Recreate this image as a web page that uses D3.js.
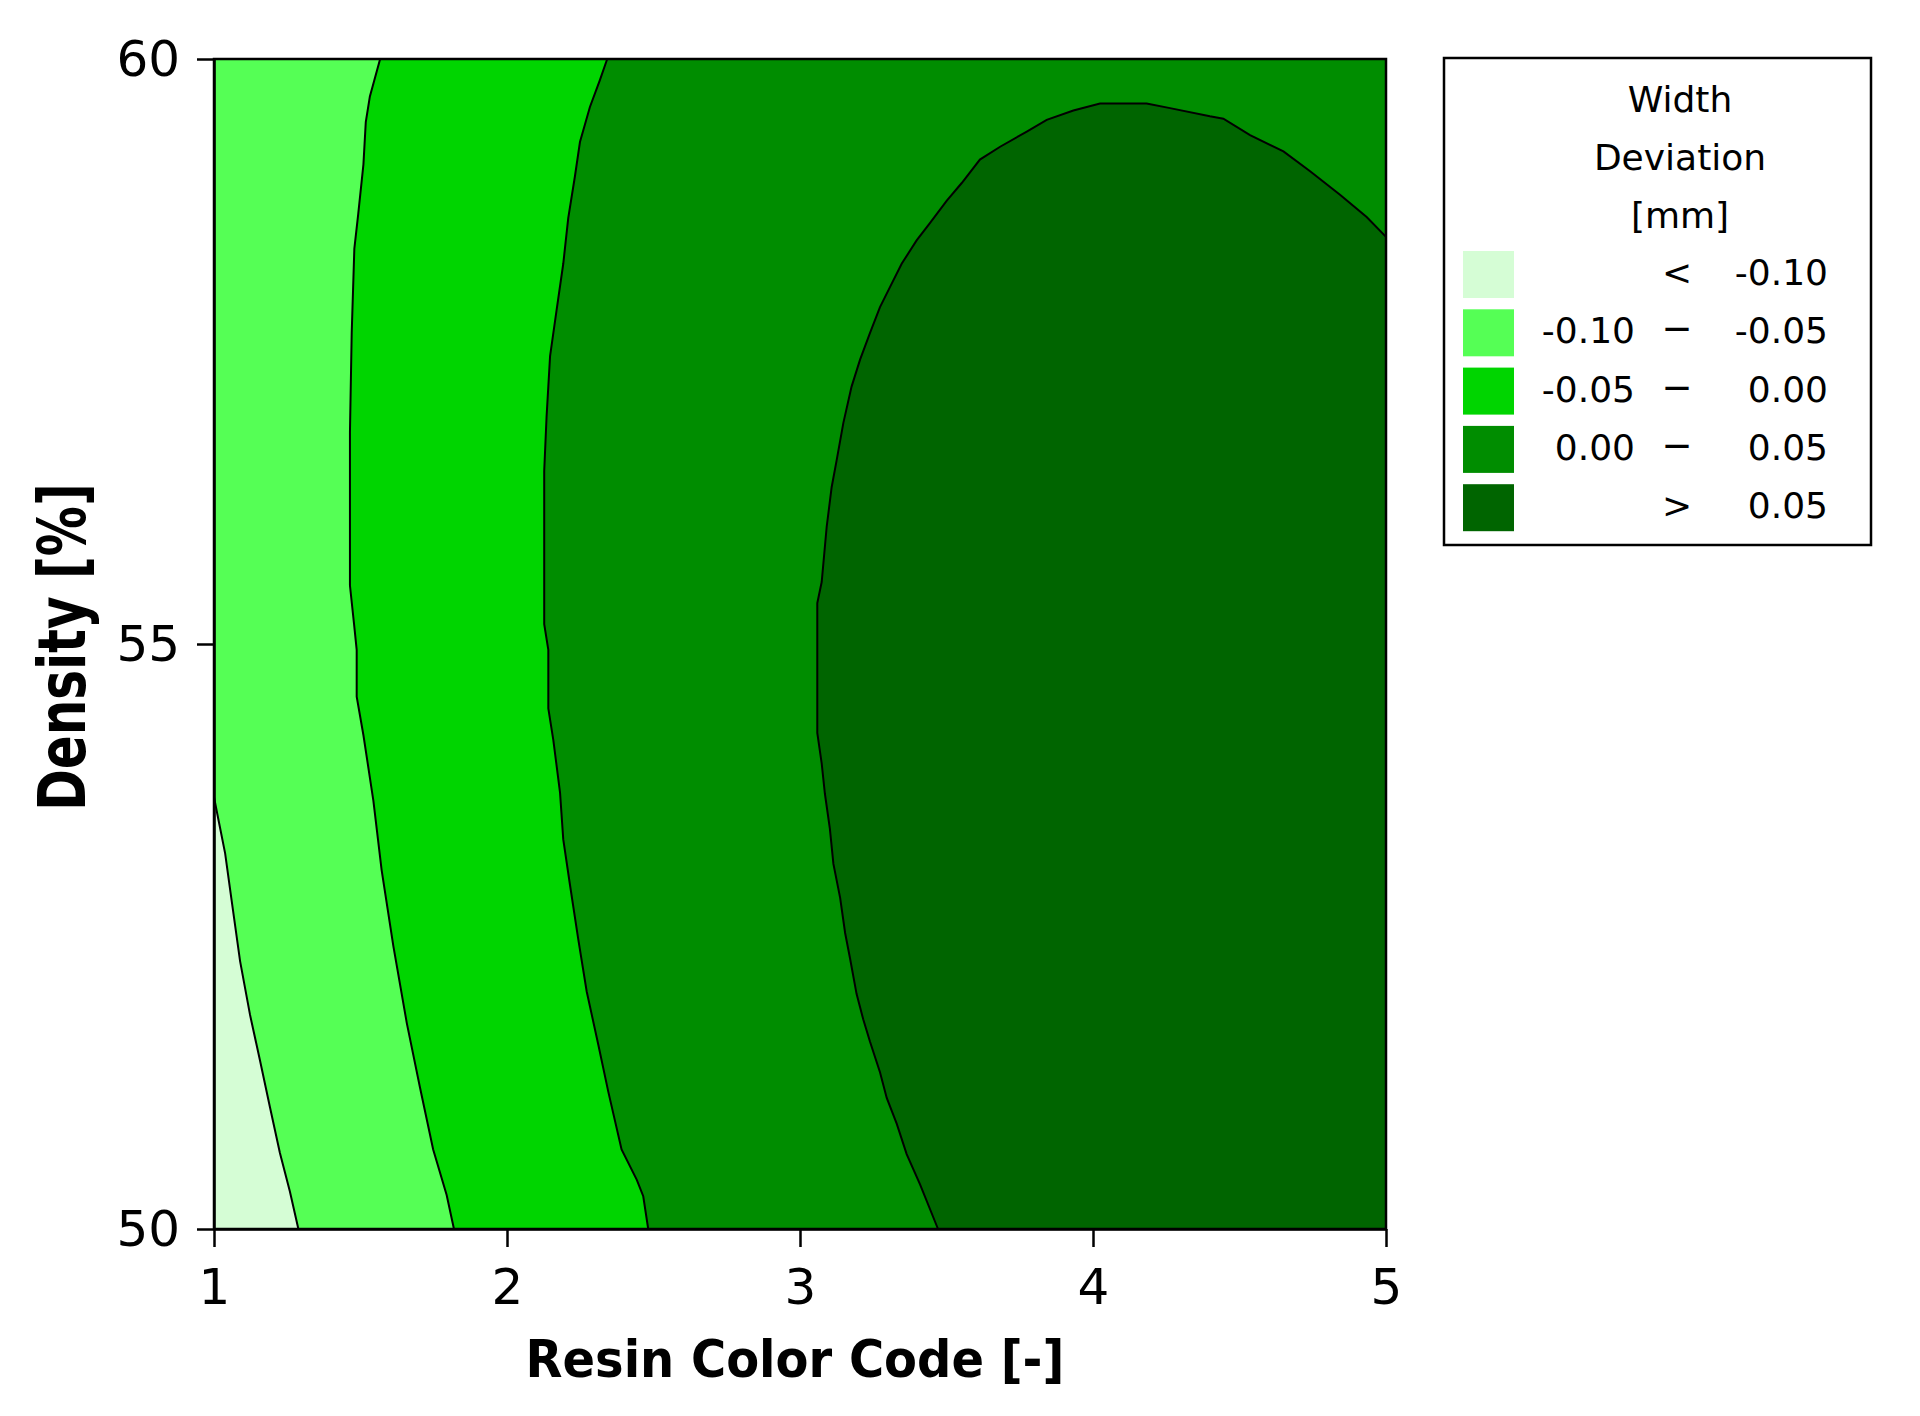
<!DOCTYPE html>
<html>
<head>
<meta charset="utf-8">
<script src="https://d3js.org/d3.v7.min.js"></script>
<style>
  body { margin: 0; background: #fff; }
  text { font-family: "DejaVu Sans", Verdana, sans-serif; fill: #000; }
</style>
</head>
<body>
<script>
// Axis ticks and titles
var xTicks = [1, 2, 3, 4, 5];
var yTicks = [50, 55, 60];
var xTitle = "Resin Color Code [-]";
var yTitle = "Density [%]";

// Contour levels and band colours (lowest band first)
var levels = [-0.10, -0.05, 0.00, 0.05];
var bandColors = ["#d5fdd5", "#55ff55", "#00d500", "#008d00", "#006500"];

// Legend text
var legendTitle = ["Width", "Deviation", "[mm]"];
var legendLow = ["", "-0.10", "-0.05", "0.00", ""];
var legendSym = ["<", "\u2014", "\u2014", "\u2014", ">"];
var legendHigh = ["-0.10", "-0.05", "0.00", "0.05", "0.05"];

// Contour lines, [resin colour code, density]
var contourM010 = [
  [1.000, 53.69], [1.015, 53.50], [1.038, 53.21], [1.060, 52.81], [1.089, 52.29],
  [1.123, 51.83], [1.157, 51.44], [1.191, 51.04], [1.225, 50.65], [1.259, 50.32],
  [1.288, 50.00]
];
var contourM005 = [
  [1.567, 60.00], [1.532, 59.68], [1.518, 59.46], [1.510, 59.10], [1.492, 58.67],
  [1.479, 58.38], [1.470, 57.66], [1.464, 56.81], [1.464, 55.50], [1.478, 55.17],
  [1.487, 54.95], [1.487, 54.55], [1.510, 54.22], [1.544, 53.66], [1.572, 53.07],
  [1.612, 52.42], [1.658, 51.76], [1.703, 51.21], [1.748, 50.68], [1.794, 50.29],
  [1.819, 50.00]
];
var contour000 = [
  [2.342, 60.00], [2.317, 59.82], [2.283, 59.59], [2.249, 59.29], [2.232, 59.00],
  [2.209, 58.64], [2.192, 58.25], [2.169, 57.85], [2.147, 57.46], [2.135, 56.94],
  [2.127, 56.48], [2.127, 55.17], [2.141, 54.95], [2.141, 54.45], [2.158, 54.18],
  [2.181, 53.73], [2.192, 53.33], [2.215, 52.94], [2.243, 52.48], [2.272, 52.03],
  [2.312, 51.57], [2.346, 51.17], [2.391, 50.68], [2.443, 50.42], [2.465, 50.28],
  [2.482, 50.00]
];
var contour005 = [
  [3.471, 50.00], [3.410, 50.38], [3.364, 50.64], [3.330, 50.90], [3.296, 51.12],
  [3.273, 51.34], [3.239, 51.60], [3.216, 51.79], [3.193, 52.01], [3.171, 52.31],
  [3.154, 52.53], [3.137, 52.83], [3.114, 53.12], [3.102, 53.42], [3.085, 53.72],
  [3.074, 53.98], [3.059, 54.24], [3.059, 55.35], [3.074, 55.53], [3.091, 56.00],
  [3.108, 56.34], [3.125, 56.57], [3.148, 56.89], [3.176, 57.20], [3.205, 57.43],
  [3.239, 57.66], [3.273, 57.88], [3.307, 58.05], [3.347, 58.25], [3.398, 58.45],
  [3.444, 58.60], [3.501, 58.79], [3.552, 58.94], [3.614, 59.14], [3.683, 59.25],
  [3.774, 59.38], [3.842, 59.48], [3.933, 59.56], [4.024, 59.62], [4.183, 59.62],
  [4.263, 59.58], [4.399, 59.51], [4.445, 59.49], [4.536, 59.35], [4.650, 59.21],
  [4.741, 59.04], [4.843, 58.84], [4.934, 58.65], [5.000, 58.48]
];

// SVG area and plot box
var svgWidth = 1920;
var svgHeight = 1416;
var margin = { top: 59, left: 214 };
var chartWidth = 1172;
var chartHeight = 1170;

var svg = d3.select("body")
  .append("svg")
  .attr("width", svgWidth)
  .attr("height", svgHeight);

var chartGroup = svg.append("g")
  .attr("transform", `translate(${margin.left}, ${margin.top})`);

var xScale = d3.scaleLinear().domain([1, 5]).range([0, chartWidth]);
var yScale = d3.scaleLinear().domain([50, 60]).range([chartHeight, 0]);

var x0 = xScale.domain()[0], x1 = xScale.domain()[1];
var y0 = yScale.domain()[0], y1 = yScale.domain()[1];

var line = d3.line()
  .x(d => xScale(d[0]))
  .y(d => yScale(d[1]));

// Each polygon covers everything above its contour level
var bandPolygons = [
  [[x0, y1]].concat(contourM010, [[x1, y0], [x1, y1]]),
  contourM005.concat([[x1, y0], [x1, y1]]),
  contour000.concat([[x1, y0], [x1, y1]]),
  contour005.concat([[x1, y0]])
];

// lowest band as background
chartGroup.append("rect")
  .attr("x", xScale(x0))
  .attr("y", yScale(y1))
  .attr("width", xScale(x1) - xScale(x0))
  .attr("height", yScale(y0) - yScale(y1))
  .attr("fill", bandColors[0]);

chartGroup.selectAll(".band")
  .data(bandPolygons)
  .enter()
  .append("path")
  .attr("class", "band")
  .attr("d", d => line(d) + "Z")
  .attr("fill", (d, i) => bandColors[i + 1]);

// contour lines
chartGroup.selectAll(".contour")
  .data([contourM010, contourM005, contour000, contour005])
  .enter()
  .append("path")
  .attr("class", "contour")
  .attr("d", line)
  .attr("fill", "none")
  .attr("stroke", "#000")
  .attr("stroke-width", 2);

// frame
chartGroup.append("rect")
  .attr("x", 0)
  .attr("y", 0)
  .attr("width", chartWidth)
  .attr("height", chartHeight)
  .attr("fill", "none")
  .attr("stroke", "#000")
  .attr("stroke-width", 2.5);

// axes
var leftAxis = d3.axisLeft(yScale)
  .tickValues(yTicks)
  .tickSize(17)
  .tickSizeOuter(0)
  .tickPadding(17)
  .tickFormat(d3.format("d"));

var bottomAxis = d3.axisBottom(xScale)
  .tickValues(xTicks)
  .tickSize(18)
  .tickSizeOuter(0)
  .tickPadding(21)
  .tickFormat(d3.format("d"));

var yAxisG = chartGroup.append("g").call(leftAxis);
var xAxisG = chartGroup.append("g")
  .attr("transform", "translate(0, " + chartHeight + ")")
  .call(bottomAxis);

[yAxisG, xAxisG].forEach(function(g) {
  g.select(".domain").attr("stroke-width", 2.5);
  g.selectAll(".tick line").attr("stroke-width", 2.5);
  g.selectAll(".tick text")
    .style("font-family", "'DejaVu Sans', Verdana, sans-serif")
    .style("font-size", "50px")
    .attr("fill", "#000");
});

// axis titles
svg.append("text")
  .attr("transform", "translate(795, 1377) scale(1, 1.08)")
  .attr("text-anchor", "middle")
  .style("font-size", "48px")
  .style("font-weight", "bold")
  .text(xTitle);

svg.append("text")
  .attr("transform", "translate(85, 647) rotate(-90) scale(1, 1.3)")
  .attr("text-anchor", "middle")
  .style("font-size", "50px")
  .style("font-weight", "bold")
  .text(yTitle);

// legend
var legend = svg.append("g");

legend.append("rect")
  .attr("x", 1444)
  .attr("y", 58)
  .attr("width", 427)
  .attr("height", 487)
  .attr("fill", "#fff")
  .attr("stroke", "#000")
  .attr("stroke-width", 2.5);

legend.selectAll(".ltitle")
  .data(legendTitle)
  .enter()
  .append("text")
  .attr("x", 1680)
  .attr("y", (d, i) => 112 + i * 58)
  .attr("text-anchor", "middle")
  .style("font-size", "36px")
  .text(d => d);

var rows = legend.selectAll(".lrow")
  .data(bandColors)
  .enter()
  .append("g")
  .attr("transform", (d, i) => `translate(0, ${251 + i * 58.3})`);

rows.append("rect")
  .attr("x", 1463)
  .attr("y", 0)
  .attr("width", 51)
  .attr("height", 47)
  .attr("fill", d => d);

rows.append("text")
  .attr("x", 1635)
  .attr("y", 34)
  .attr("text-anchor", "end")
  .style("font-size", "36px")
  .text((d, i) => legendLow[i]);

rows.append("text")
  .attr("x", 1677)
  .attr("y", (d, i) => legendSym[i] === "\u2014" ? 28 : 34)
  .attr("text-anchor", "middle")
  .style("font-size", (d, i) => legendSym[i] === "\u2014" ? "26px" : "36px")
  .style("font-weight", (d, i) => legendSym[i] === "\u2014" ? "bold" : "normal")
  .text((d, i) => legendSym[i]);

rows.append("text")
  .attr("x", 1828)
  .attr("y", 34)
  .attr("text-anchor", "end")
  .style("font-size", "36px")
  .text((d, i) => legendHigh[i]);
</script>
</body>
</html>
